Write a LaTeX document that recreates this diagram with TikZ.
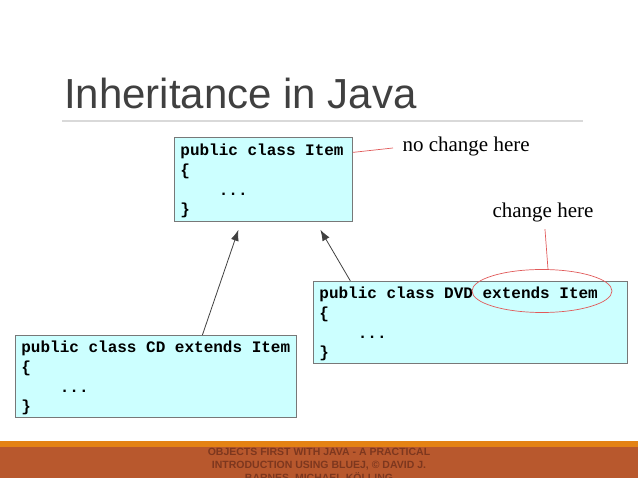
\documentclass[tikz,border=0pt]{standalone}
\usepackage{fontspec}
\setmainfont{Liberation Serif}
\newfontfamily\titlefont{Liberation Sans}
\newfontfamily\codefont{Liberation Mono}
\usetikzlibrary{shapes.geometric, arrows.meta}
\definecolor{boxfill}{RGB}{204,255,255}
\definecolor{boxline}{RGB}{120,120,120}
\definecolor{titlegray}{RGB}{64,64,64}
\definecolor{rulegray}{RGB}{217,217,217}
\definecolor{footbrown}{RGB}{184,88,45}
\definecolor{footorange}{RGB}{228,130,20}
\definecolor{foottext}{RGB}{125,55,30}
\definecolor{notered}{RGB}{225,90,90}
\newcommand{\gap}{\phantom{x}}
\newcommand{\toprule}{\rule{0pt}{15pt}}

\begin{document}
\begin{tikzpicture}[x=1pt, y=-1pt,
    classbox/.style={draw=boxline, fill=boxfill, line width=0.8pt, anchor=north west,
        inner xsep=6pt, inner ysep=1pt, align=left, font=\codefont\bfseries\fontsize{16}{19.6}\selectfont},
    note/.style={anchor=base west, font=\fontsize{21}{24}\selectfont},
    noteline/.style={draw=notered, line width=0.7pt},
    inherit/.style={draw=black!75, line width=0.8pt, -{Latex[length=11pt, width=8pt]}}]
\useasboundingbox (0,0) rectangle (638,478);
\clip (0,0) rectangle (638,478);
% title and rule
\node[anchor=base west, inner sep=0pt, text=titlegray, font=\titlefont\fontsize{42}{48}\selectfont] (title) at (64,109) {Inheritance in Java};
\draw[rulegray, line width=1.5pt] (62,121) -- (583,121);
% classes
\node[classbox, minimum width=178pt, minimum height=84pt, text width=166pt] (item) at (174,137)
    {\toprule public\gap class\gap Item\\\{\\\gap\gap\gap\gap...\\\}};
\node[classbox, minimum width=314pt, minimum height=82pt, text width=302pt] (dvd) at (313,281)
    {\toprule public\gap class\gap DVD\gap extends\gap Item\\\{\\\gap\gap\gap\gap...\\\}};
\node[classbox, minimum width=281pt, minimum height=82pt, text width=269pt] (cd) at (15,335)
    {\toprule public\gap class\gap CD\gap extends\gap Item\\\{\\\gap\gap\gap\gap...\\\}};
\draw[inherit] ([xshift=46.5pt]cd.north) -- ([xshift=-25pt, yshift=-8pt]item.south);
\draw[inherit] ([xshift=-120pt]dvd.north) -- ([xshift=57pt, yshift=-8pt]item.south);
% notes
\node[note] (same) at (399,152) {no change here};
\node[note] (change) at (489,218) {change here};
\node[ellipse, noteline, minimum width=140pt, minimum height=43pt] (oval) at (542,291) {};
\draw[noteline] ([yshift=27pt]item.east) -- ([xshift=-6pt, yshift=-1pt]same.west);
\draw[noteline] ([xshift=2pt, yshift=-3pt]change.south) -- ([xshift=6pt]oval.north);
% footer
\fill[footorange] (0,441) rectangle (638,448);
\fill[footbrown] (0,447) rectangle (638,478);
\node[anchor=north, align=center, text=foottext, inner sep=0pt,
    font=\titlefont\bfseries\fontsize{10.5}{13}\selectfont] (credit) at (319,448)
    {OBJECTS FIRST WITH JAVA - A PRACTICAL\\INTRODUCTION USING BLUEJ, © DAVID J.\\BARNES, MICHAEL KÖLLING};
\end{tikzpicture}
\end{document}
